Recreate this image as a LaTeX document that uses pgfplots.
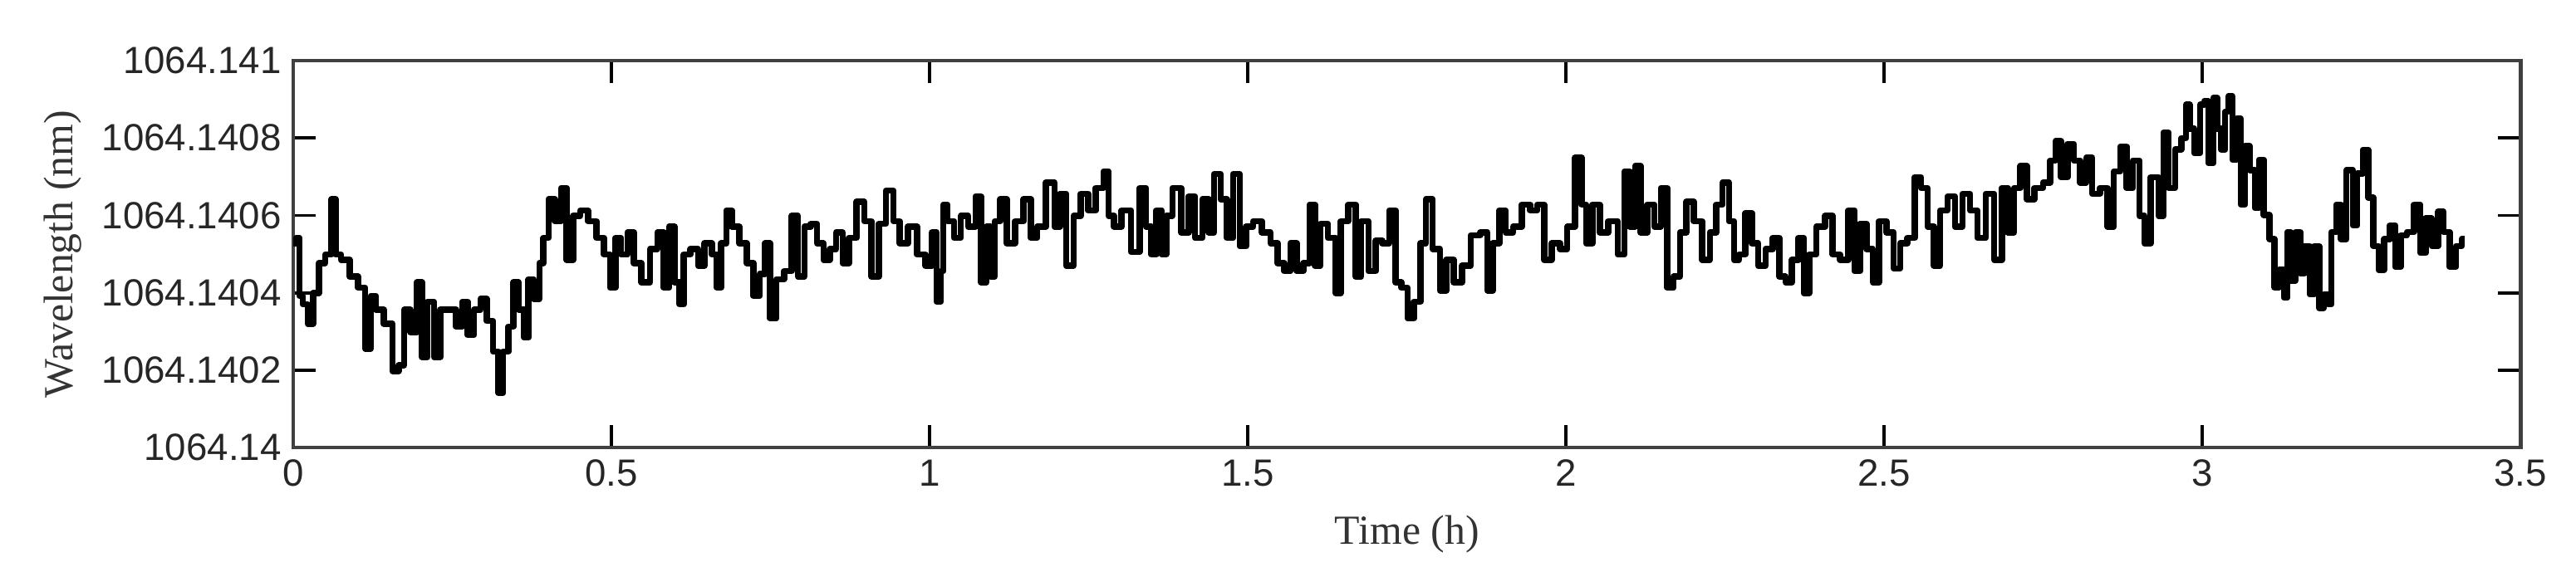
\documentclass[border=0pt]{standalone}
\usepackage{fontspec}
\setmainfont{Liberation Serif}
\newfontfamily\arialfont{Liberation Sans}
\usepackage{pgfplots}
\usepackage{pgfplotstable}
\pgfplotsset{compat=1.18}
% dl = (wavelength - 1064.14 nm) x 10^4, i.e. in units of 0.1 pm
\pgfplotstableread{
t dl
0.000 5.28
0.008 5.42
0.011 3.92
0.018 3.70
0.027 3.20
0.035 3.99
0.045 4.77
0.055 4.99
0.065 6.42
0.068 4.99
0.082 4.85
0.095 4.42
0.108 4.13
0.118 2.56
0.125 3.92
0.135 3.56
0.149 3.20
0.162 1.98
0.169 2.13
0.179 3.56
0.189 2.98
0.199 4.27
0.205 2.34
0.216 3.77
0.226 2.34
0.236 3.56
0.249 3.56
0.262 3.13
0.269 3.77
0.279 2.91
0.289 3.56
0.299 3.84
0.309 3.27
0.319 2.48
0.326 1.41
0.333 2.48
0.343 3.13
0.349 4.27
0.359 3.56
0.366 2.84
0.373 4.35
0.383 3.84
0.390 4.77
0.396 5.42
0.406 6.42
0.416 5.85
0.426 6.71
0.433 4.85
0.446 5.99
0.456 6.13
0.470 5.85
0.483 5.42
0.493 4.99
0.502 4.13
0.510 5.42
0.520 4.99
0.530 5.56
0.540 4.77
0.554 4.27
0.567 5.13
0.577 5.56
0.587 4.13
0.594 5.71
0.604 4.27
0.610 3.70
0.617 4.99
0.631 5.13
0.641 4.70
0.651 5.28
0.664 4.99
0.667 4.13
0.677 5.28
0.684 6.13
0.694 5.71
0.707 5.28
0.718 4.77
0.728 3.92
0.738 4.49
0.744 5.28
0.754 3.34
0.764 4.35
0.778 4.56
0.788 5.99
0.798 4.42
0.808 5.71
0.818 5.78
0.828 5.28
0.838 4.85
0.848 5.13
0.858 5.56
0.868 4.77
0.878 5.42
0.892 6.35
0.902 5.85
0.915 4.42
0.925 5.78
0.938 6.64
0.948 5.85
0.958 5.28
0.973 5.71
0.987 4.99
1.000 4.70
1.007 5.56
1.015 3.77
1.020 4.56
1.023 6.28
1.033 5.85
1.044 5.42
1.054 5.99
1.067 5.71
1.077 6.49
1.084 4.27
1.094 5.71
1.097 4.42
1.107 5.85
1.115 6.42
1.127 5.28
1.141 5.85
1.154 6.42
1.164 5.42
1.174 5.71
1.191 6.85
1.201 5.71
1.208 6.56
1.221 4.70
1.231 5.99
1.244 6.56
1.254 6.13
1.268 6.71
1.278 7.14
1.284 5.99
1.295 5.71
1.308 6.13
1.325 5.06
1.335 6.71
1.345 5.71
1.351 4.99
1.361 6.13
1.368 4.99
1.375 5.99
1.388 6.71
1.402 5.56
1.412 6.49
1.422 5.42
1.435 6.42
1.442 5.56
1.452 7.07
1.462 6.42
1.472 5.42
1.482 7.07
1.492 5.20
1.502 5.71
1.515 5.85
1.529 5.56
1.542 5.28
1.552 4.77
1.562 4.56
1.572 5.28
1.582 4.56
1.592 4.77
1.602 6.28
1.609 4.70
1.619 5.78
1.633 5.42
1.643 3.99
1.649 5.85
1.666 6.28
1.673 4.42
1.683 5.85
1.696 4.56
1.706 5.35
1.716 5.28
1.728 6.13
1.736 4.27
1.746 4.13
1.756 3.34
1.766 3.77
1.776 5.28
1.784 6.42
1.797 5.13
1.807 4.06
1.817 4.85
1.830 4.27
1.843 4.70
1.857 5.49
1.873 5.56
1.880 4.06
1.890 5.28
1.900 6.13
1.910 5.56
1.924 5.71
1.937 6.28
1.950 6.13
1.960 6.28
1.971 4.85
1.984 5.28
1.997 5.13
2.007 5.71
2.021 7.49
2.028 6.28
2.035 5.28
2.048 6.28
2.058 5.56
2.074 5.85
2.088 4.99
2.096 7.14
2.104 5.71
2.113 7.28
2.121 5.56
2.134 6.28
2.144 5.71
2.154 6.71
2.164 4.13
2.174 4.42
2.184 5.56
2.194 6.35
2.207 5.85
2.221 4.85
2.231 5.56
2.241 6.28
2.251 6.85
2.261 5.85
2.267 4.85
2.277 4.99
2.287 6.06
2.297 5.28
2.307 4.70
2.320 5.13
2.330 5.42
2.340 4.42
2.350 4.27
2.360 4.85
2.370 5.42
2.377 3.99
2.387 4.99
2.400 5.71
2.414 5.99
2.424 4.99
2.437 4.85
2.450 6.13
2.457 4.56
2.467 5.78
2.477 5.13
2.487 4.27
2.497 5.85
2.510 5.56
2.520 4.63
2.530 5.28
2.543 5.42
2.553 6.99
2.563 6.71
2.573 5.71
2.583 4.70
2.593 6.13
2.606 6.49
2.616 5.71
2.630 6.56
2.640 6.13
2.653 5.42
2.666 6.56
2.680 4.85
2.690 6.71
2.699 5.56
2.709 6.71
2.719 7.28
2.729 6.42
2.743 6.71
2.756 6.85
2.766 7.42
2.773 7.92
2.783 6.99
2.793 7.85
2.803 7.42
2.813 6.85
2.822 7.49
2.832 6.56
2.846 6.71
2.856 5.71
2.866 7.14
2.876 7.78
2.886 6.71
2.896 7.42
2.906 5.99
2.912 5.28
2.926 6.99
2.936 5.99
2.942 8.14
2.952 6.71
2.962 7.71
2.972 8.00
2.977 8.86
2.983 8.24
2.992 7.61
3.001 8.86
3.005 8.95
3.014 7.35
3.020 9.04
3.027 8.24
3.033 7.70
3.038 8.68
3.044 9.08
3.051 7.44
3.057 8.50
3.064 6.28
3.070 7.79
3.079 7.17
3.086 6.19
3.092 7.44
3.101 6.01
3.110 5.39
3.116 4.14
3.125 4.59
3.131 3.87
3.136 5.57
3.142 4.32
3.151 5.57
3.157 4.50
3.164 5.21
3.173 3.96
3.179 5.21
3.188 3.61
3.194 3.96
3.201 3.70
3.205 5.57
3.216 6.28
3.220 5.39
3.233 7.17
3.240 5.74
3.247 7.08
3.257 7.70
3.264 6.46
3.273 5.21
3.281 4.59
3.290 5.39
3.299 5.74
3.307 4.67
3.316 5.48
3.327 5.57
3.338 6.28
3.347 5.03
3.355 5.92
3.366 5.21
3.375 6.10
3.383 5.57
3.394 4.67
3.403 5.21
3.412 5.39
}\datatable
\begin{document}
\begin{tikzpicture}
\begin{axis}[
  name=ax,
  scale only axis,
  width=646pt, height=112.3pt,
  xmin=0, xmax=3.5, ymin=0, ymax=10,
  xtick={0,0.5,1,1.5,2,2.5,3,3.5},
  xticklabels={0,0.5,1,1.5,2,2.5,3,3.5},
  ytick={0,2,4,6,8,10},
  yticklabels={1064.14,1064.1402,1064.1404,1064.1406,1064.1408,1064.141},
  tick align=inside,
  major tick length=6.5pt,
  tick style={black, line width=0.9pt},
  axis line style={draw=black!75, line width=1.1pt},
  ticklabel style={font=\arialfont\fontsize{11}{13}\selectfont, text=black!85},
  /pgf/number format/assume math mode=true,
  xlabel={Time (h)},
  ylabel={Wavelength (nm)},
  label style={font=\fontsize{12}{14}\selectfont, text=black!80},
  xlabel style={at={([yshift=-28.1pt]axis description cs:0.5,0)}, anchor=base},
  ylabel style={at={([xshift=-64.1pt]axis description cs:0,0.5)}, anchor=base, rotate=0},
]
\addplot[black, line width=1.8pt, line join=round, const plot mark mid] table[x=t, y=dl] {\datatable};
\end{axis}
\pgfresetboundingbox
\path[use as bounding box] ([shift={(-85.1pt,-36.1pt)}]ax.south west) rectangle ([shift={(16.1pt,17.6pt)}]ax.north east);
\end{tikzpicture}
\end{document}
